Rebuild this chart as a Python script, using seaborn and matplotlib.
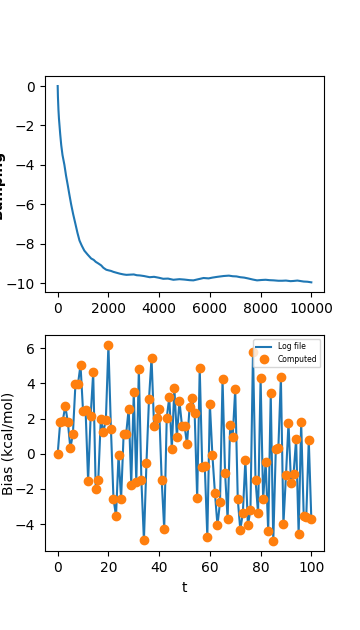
import pandas as pd
import matplotlib
matplotlib.use('Agg')
import matplotlib.pyplot as plt
import seaborn as sns

# --- data ---

# top panel: running curve from the log (sampled points)
bump_t = [0, 10, 30, 50, 75, 100, 140, 190, 265, 330, 400, 460, 530, 610, 700,
          780, 860, 950, 1050, 1180, 1320, 1420, 1500, 1600, 1715, 1800, 1915,
          2000, 2100, 2200, 2310, 2450, 2600, 2710, 2850, 3000, 3120, 3240, 3400,
          3630, 3800, 4000, 4160, 4350, 4560, 4800, 5000, 5200, 5350, 5550, 5750,
          5950, 6100, 6300, 6540, 6750, 6900, 7050, 7200, 7350, 7500, 7700, 7860,
          8050, 8200, 8350, 8520, 8700, 8850, 9000, 9180, 9300, 9450, 9600, 9700,
          9850, 10000]
bump_v = [0.0, -0.55, -1.2, -1.65, -2.05, -2.45, -3.0, -3.5, -4.0, -4.55, -5.05,
          -5.5, -6.0, -6.5, -7.0, -7.45, -7.84, -8.1, -8.35, -8.55, -8.75, -8.82,
          -8.92, -9.0, -9.1, -9.22, -9.32, -9.35, -9.38, -9.43, -9.47, -9.52, -9.56,
          -9.58, -9.57, -9.56, -9.6, -9.61, -9.64, -9.7, -9.68, -9.73, -9.78, -9.77,
          -9.83, -9.8, -9.82, -9.85, -9.86, -9.8, -9.74, -9.76, -9.72, -9.68, -9.64,
          -9.62, -9.65, -9.66, -9.7, -9.72, -9.76, -9.82, -9.86, -9.84, -9.83,
          -9.85, -9.86, -9.88, -9.88, -9.87, -9.9, -9.89, -9.87, -9.9, -9.92,
          -9.93, -9.96]

# bottom panel: bias per step
t = list(range(101))
bias = [0.0, 1.8, 1.88, 2.7, 1.8, 0.32, 1.12, 3.96, 3.96, 5.04,
        2.42, 2.48, -1.55, 2.14, 4.62, -2.0, -1.5, 1.98, 1.23, 1.93,
        6.17, 1.4, -2.57, -3.52, -0.08, -2.58, 1.12, 1.14, 2.56, -1.75,
        3.49, -1.6, 4.81, -1.5, -4.92, -0.53, 3.1, 5.45, 1.57, 2.05,
        2.55, -1.49, -4.27, 2.05, 3.21, 0.28, 3.73, 0.96, 3.0, 1.6,
        1.6, 0.55, 2.63, 3.16, 2.31, -2.52, 4.87, -0.78, -0.72, -4.73,
        2.84, -0.09, -2.23, -4.07, -2.75, 4.24, -1.1, -3.71, 1.61, 0.98,
        3.67, -2.58, -4.32, -3.37, -0.34, -4.07, -3.18, 5.78, -1.5, -3.37,
        4.3, -2.58, -0.47, -4.41, 3.45, -4.98, 0.27, 0.3, 4.36, -4.0,
        -1.23, 1.74, -1.65, -1.16, 0.83, -4.55, 1.8, -3.52, -3.62, 0.78,
        -3.71]

top_df = pd.DataFrame({'t': bump_t, 'v': bump_v})
bias_df = pd.DataFrame({'t': t, 'bias': bias})

# --- figure ---
fig, (ax1, ax2) = plt.subplots(2, 1, figsize=(3.6, 6.3), dpi=100)
fig.subplots_adjust(left=0.125, right=0.9, top=0.879, bottom=0.125, hspace=0.2)

# top: curve
sns.lineplot(data=top_df, x='t', y='v', ax=ax1, color='C0', linewidth=1.5)
ax1.set_xlabel('')
ax1.set_ylabel('Bumping', fontweight='bold')
ax1.yaxis.set_label_coords(-0.145, 0.5)

# bottom: log file vs computed
sns.lineplot(data=bias_df, x='t', y='bias', ax=ax2, color='C0',
             linewidth=1.5, label='Log file')
ax2.plot(bias_df['t'], bias_df['bias'], 'o', color='C1', label='Computed')
ax2.set_xlabel('t')
ax2.set_ylabel('Bias (kcal/mol)')
ax2.yaxis.set_label_coords(-0.104, 0.5)
ax2.legend(loc='upper right', fontsize=5.5)

plt.savefig('out.png', dpi=100)
